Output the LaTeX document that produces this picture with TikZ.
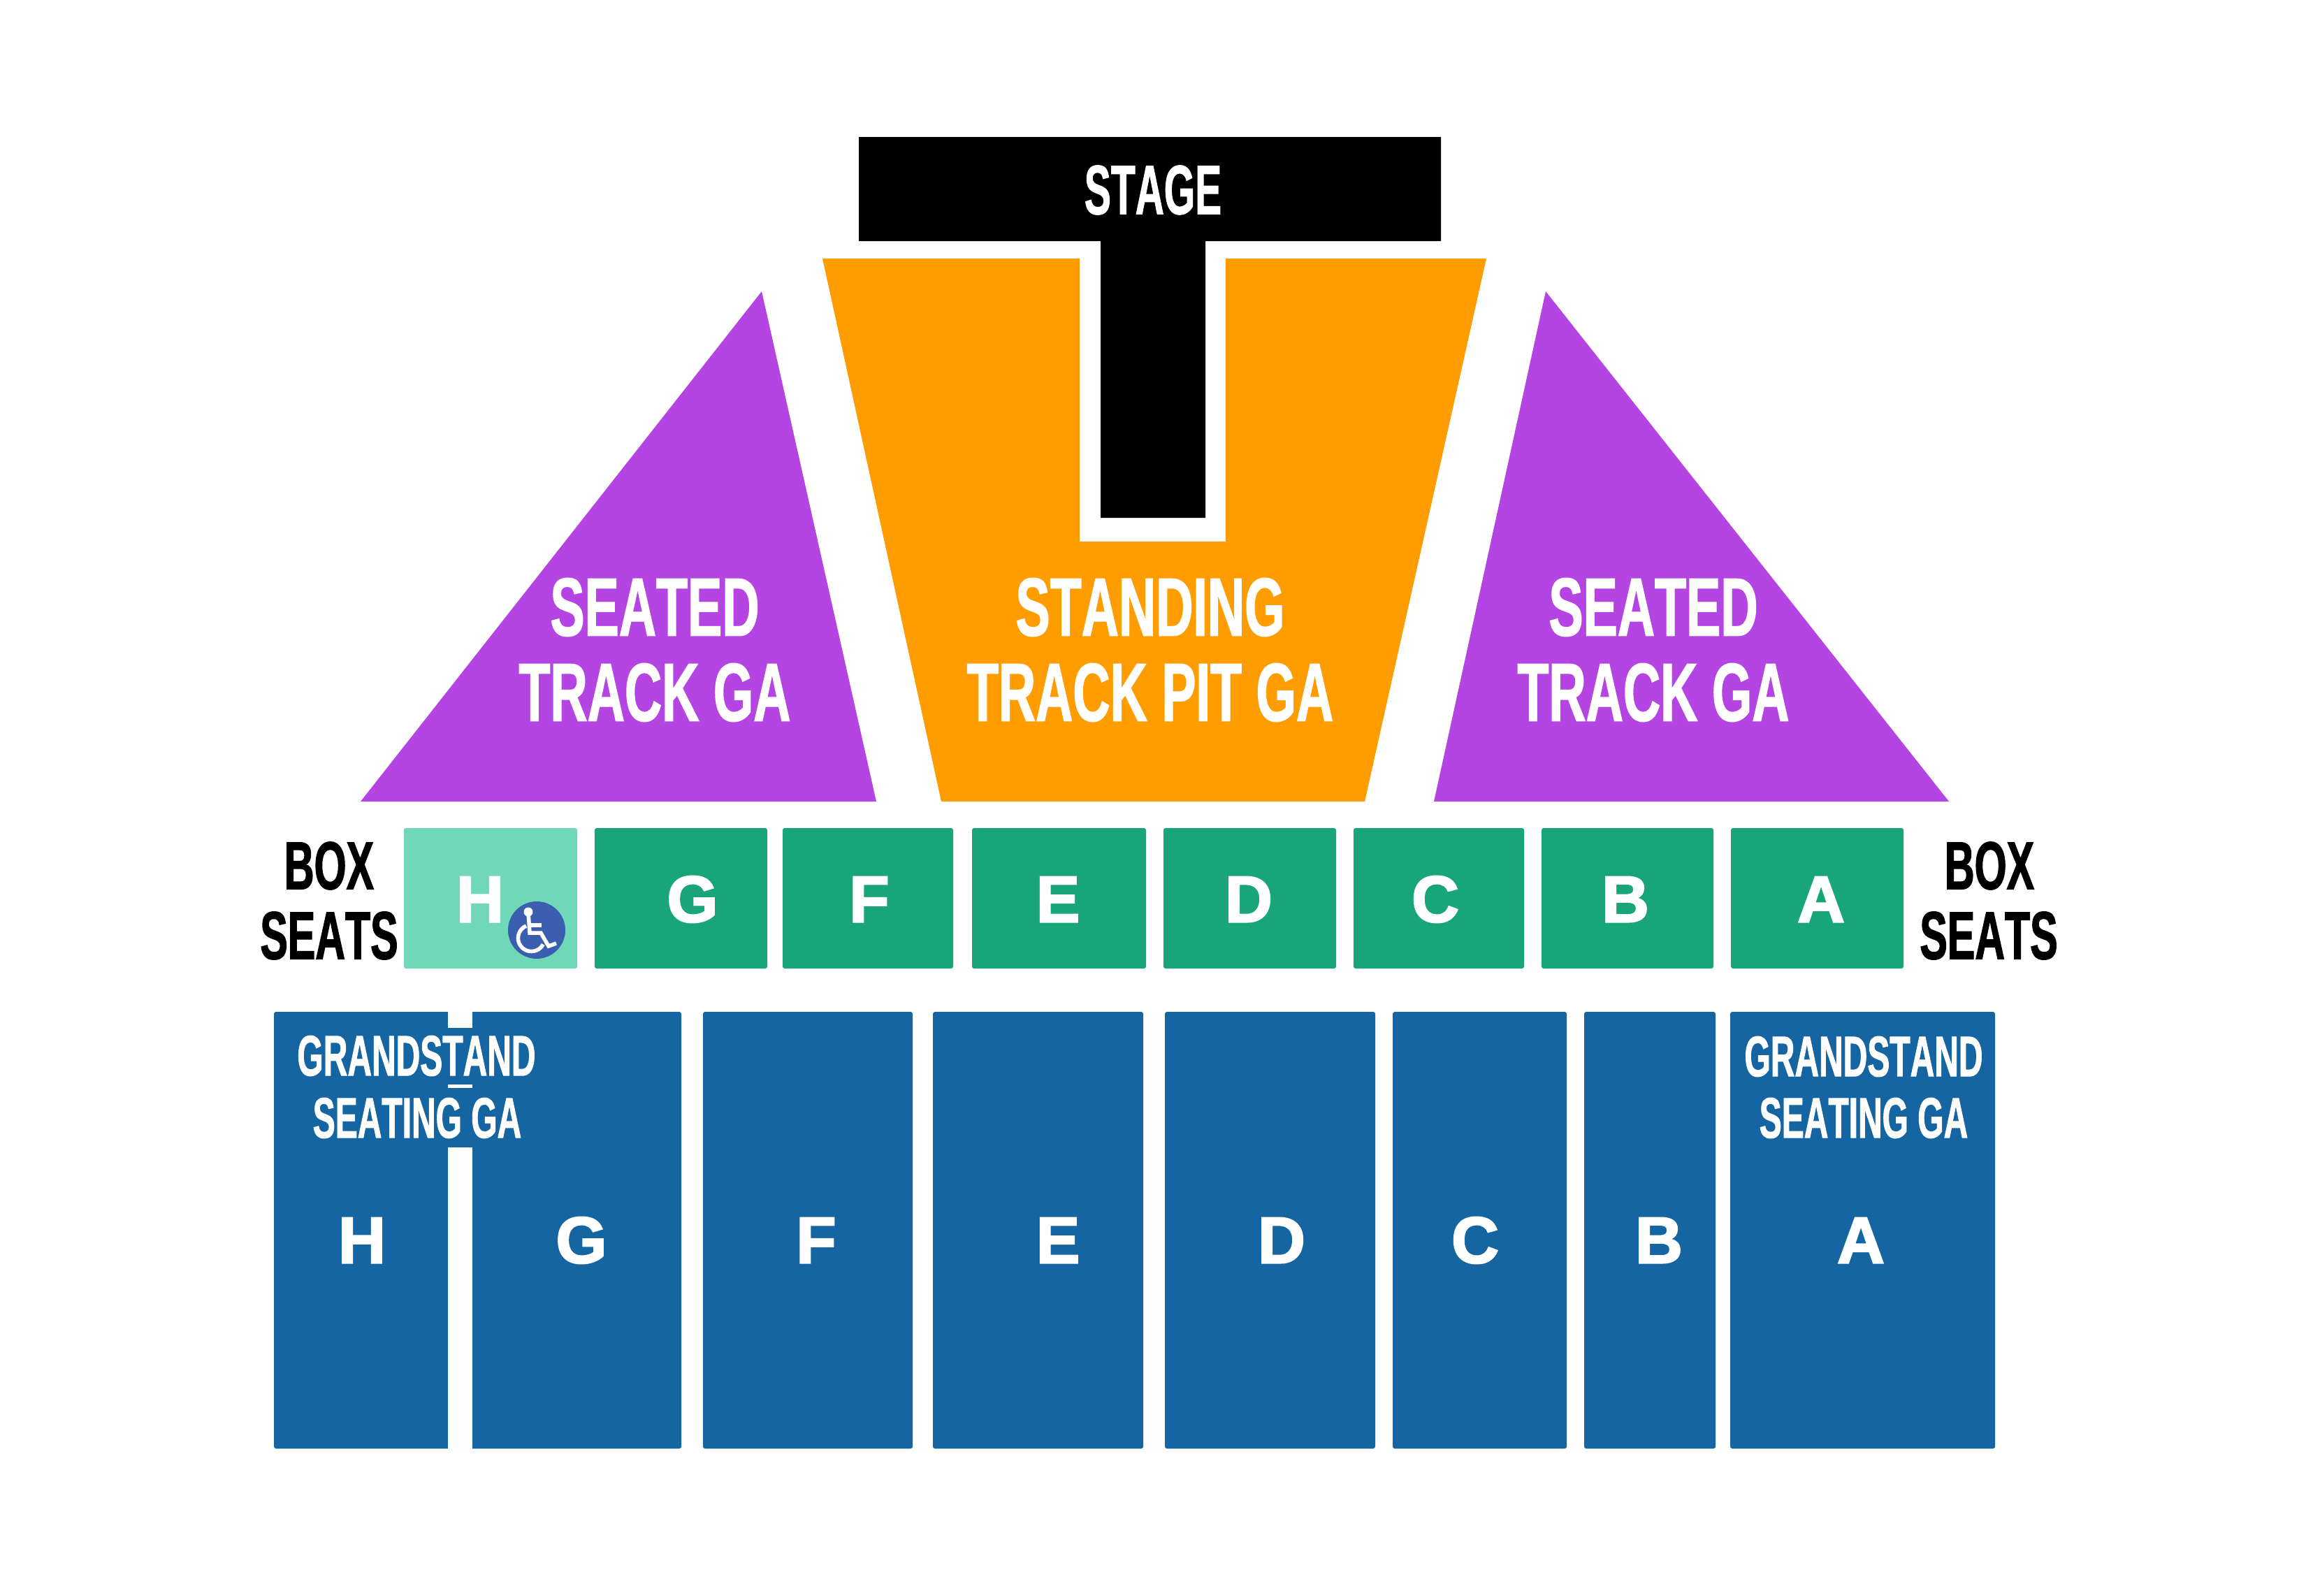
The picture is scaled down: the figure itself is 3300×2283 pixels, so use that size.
\documentclass[tikz,border=0pt]{standalone}
\usepackage{fontspec}
\setmainfont{Liberation Sans}
\newfontfamily\bigf[FakeStretch=0.625,FakeBold=1.2,Kerning=Off]{Liberation Sans}
\newfontfamily\stagef[FakeStretch=0.57,FakeBold=1.0,Kerning=Off]{Liberation Sans}
\newfontfamily\boxf[FakeStretch=0.61,FakeBold=1.3,Kerning=Off]{Liberation Sans}
\newfontfamily\grandf[FakeStretch=0.585,FakeBold=1.1,Kerning=Off]{Liberation Sans}
\newfontfamily\heavyf[FakeBold=2.5]{Liberation Sans}
\definecolor{stageblack}{HTML}{000000}
\definecolor{pitorange}{HTML}{FF9D00}
\definecolor{trackpurple}{HTML}{B545E3}
\definecolor{boxgreen}{HTML}{18A57A}
\definecolor{boxlight}{HTML}{70D8B8}
\definecolor{standblue}{HTML}{1665A3}
\definecolor{wheelblue}{HTML}{3A5FAE}
\tikzset{
  x=1pt,y=-1pt,
  zonegreen/.style={fill=boxgreen,rounded corners=3pt},
  zonelight/.style={fill=boxlight,rounded corners=3pt},
  zoneblue/.style={fill=standblue,rounded corners=3pt},
  bigtxt/.style={inner sep=0,text=white,font=\bigf\bfseries\fontsize{118}{118}\selectfont},
  stagetxt/.style={inner sep=0,text=white,font=\stagef\bfseries\fontsize{100}{100}\selectfont},
  boxtxt/.style={inner sep=0,text=black,font=\boxf\bfseries\fontsize{97}{97}\selectfont},
  grandtxt/.style={inner sep=0,text=white,font=\grandf\bfseries\fontsize{82}{82}\selectfont},
  lettertxt/.style={inner sep=0,text=white,font=\heavyf\bfseries\fontsize{94}{94}\selectfont},
  wheelline/.style={draw=white,line width=5.5pt,line cap=butt,line join=miter}
}
\begin{document}
\begin{tikzpicture}
\useasboundingbox (0,0) rectangle (3300,2283);
\fill[white] (0,0) rectangle (3300,2283);
% stage
\fill[stageblack] (1229,196) -- (2062,196) -- (2062,345) -- (1725,345) -- (1725,741) -- (1575,741) -- (1575,345) -- (1229,345) -- cycle;
% pit
\fill[pitorange] (1177,370) -- (1545,370) -- (1545,775) -- (1754,775) -- (1754,370) -- (2127,370) -- (1953,1147) -- (1347,1147) -- cycle;
% seated triangles
\fill[trackpurple] (1090,417) -- (1254,1147) -- (516,1147) -- cycle;
\fill[trackpurple] (2212,417) -- (2789,1147) -- (2052,1147) -- cycle;
% box seats
\fill[zonelight] (578,1185) rectangle (826,1386);
\fill[zonegreen] (851,1185) rectangle (1098,1386);
\fill[zonegreen] (1120,1185) rectangle (1364,1386);
\fill[zonegreen] (1391,1185) rectangle (1640,1386);
\fill[zonegreen] (1665,1185) rectangle (1912,1386);
\fill[zonegreen] (1937,1185) rectangle (2181,1386);
\fill[zonegreen] (2206,1185) rectangle (2452,1386);
\fill[zonegreen] (2477,1185) rectangle (2724,1386);
% grandstand
\fill[zoneblue] (392,1448) rectangle (975,2073);
\fill[white] (641,1446) rectangle (676,1471);
\fill[white] (641,1552) rectangle (676,1557);
\fill[white] (641,1642) rectangle (676,2075);
\fill[zoneblue] (1006,1448) rectangle (1306,2073);
\fill[zoneblue] (1335,1448) rectangle (1636,2073);
\fill[zoneblue] (1667,1448) rectangle (1968,2073);
\fill[zoneblue] (1993,1448) rectangle (2242,2073);
\fill[zoneblue] (2267,1448) rectangle (2455,2073);
\fill[zoneblue] (2476,1448) rectangle (2855,2073);
% texts
\node[stagetxt] (stage) at (1650,272) {STAGE};
\node[bigtxt] (seatL) at (937,869) {SEATED};
\node[bigtxt] (trackL) at (937,991) {TRACK GA};
\node[bigtxt] (standing) at (1646,869) {STANDING};
\node[bigtxt] (pit) at (1646,991) {TRACK PIT GA};
\node[bigtxt] (seatR) at (2366,869) {SEATED};
\node[bigtxt] (trackR) at (2366,991) {TRACK GA};
\node[boxtxt] (boxL) at (471,1239) {BOX};
\node[boxtxt] (seatsL) at (471,1339) {SEATS};
\node[boxtxt] (boxR) at (2847,1239) {BOX};
\node[boxtxt] (seatsR) at (2846,1339) {SEATS};
\node[grandtxt] (gsL) at (596,1511) {GRANDSTAND};
\node[grandtxt] (sgL) at (597,1600) {SEATING GA};
\node[grandtxt] (gsR) at (2667,1512) {GRANDSTAND};
\node[grandtxt] (sgR) at (2667,1600) {SEATING GA};
% box letters
\node[lettertxt] (bH) at (687,1287) {H};
\node[lettertxt] (bG) at (991,1287) {G};
\node[lettertxt] (bF) at (1244,1287) {F};
\node[lettertxt] (bE) at (1514,1287) {E};
\node[lettertxt] (bD) at (1787,1287) {D};
\node[lettertxt] (bC) at (2054,1287) {C};
\node[lettertxt] (bB) at (2326,1287) {B};
\node[lettertxt] (bA) at (2606,1287) {A};
% grandstand letters
\node[lettertxt] (gH) at (518,1775) {H};
\node[lettertxt] (gG) at (832,1775) {G};
\node[lettertxt] (gF) at (1168,1775) {F};
\node[lettertxt] (gE) at (1514,1775) {E};
\node[lettertxt] (gD) at (1834,1775) {D};
\node[lettertxt] (gC) at (2111,1775) {C};
\node[lettertxt] (gB) at (2374,1775) {B};
\node[lettertxt] (gA) at (2663,1775) {A};
% wheelchair sign
\fill[wheelblue] (768,1331) circle[radius=41];
\fill[white] (756,1305) circle[radius=6.5];
\draw[wheelline] (756,1305) -- (758,1335) -- (774,1335) -- (785,1354) -- (796,1350);
\draw[wheelline] (757,1324) -- (775,1324);
\draw[wheelline] (753,1325) arc[start angle=247,end angle=28,radius=19];
\end{tikzpicture}
\end{document}
